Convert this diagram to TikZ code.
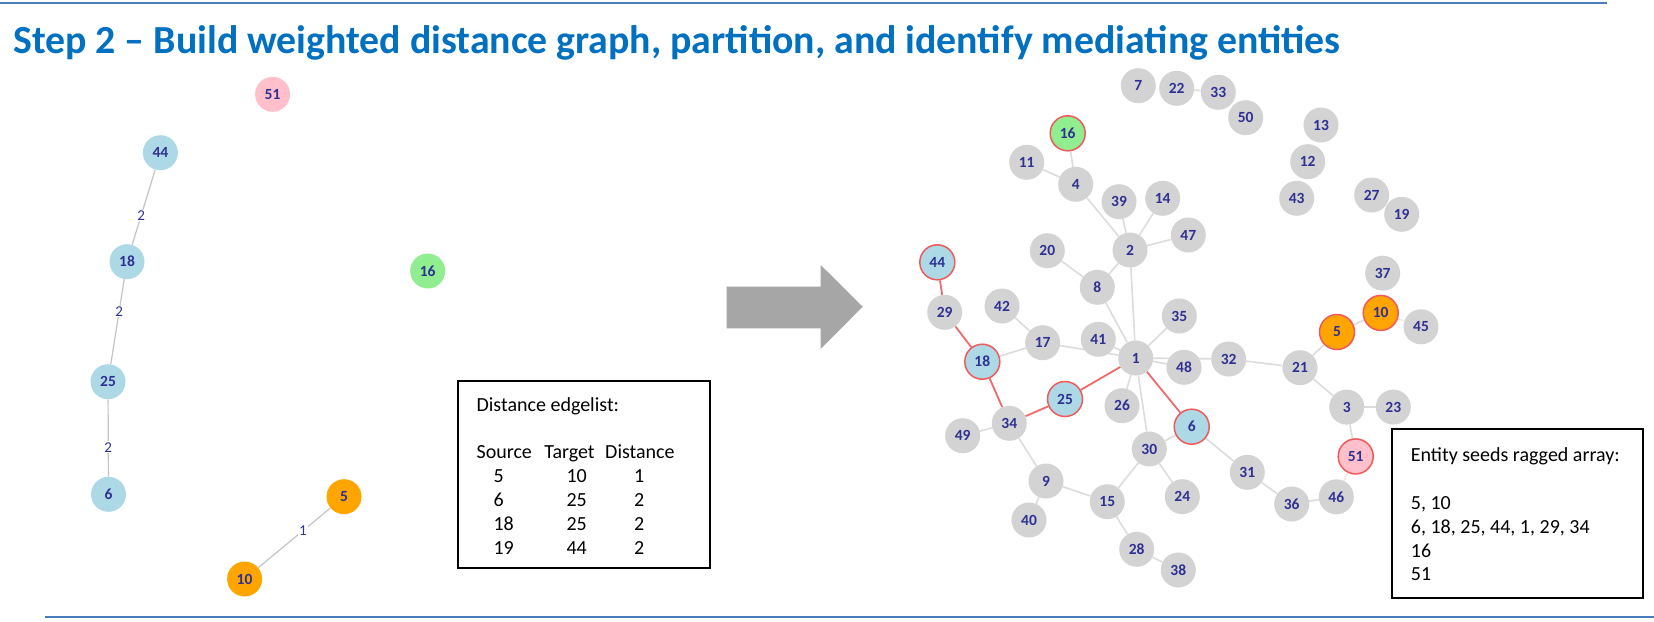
\documentclass[tikz,border=0pt]{standalone}
\usepackage{fontspec}
\setmainfont{Carlito}
\usetikzlibrary{backgrounds}
\definecolor{titleblue}{HTML}{0070C0}
\definecolor{ruleblue}{HTML}{4A7EBB}
\definecolor{nodegray}{HTML}{D3D3D3}
\definecolor{nodeblue}{HTML}{ADD8E6}
\definecolor{nodegreen}{HTML}{90EE90}
\definecolor{nodeorange}{HTML}{FFA500}
\definecolor{nodepink}{HTML}{FFC0CB}
\definecolor{seedred}{HTML}{F05A5A}
\definecolor{labelnavy}{HTML}{2E3192}
\definecolor{edgegray}{HTML}{DCDCDC}
\definecolor{leftedge}{HTML}{C4C4C4}
\definecolor{rededge}{HTML}{F06A6A}
\definecolor{faintpink}{HTML}{F8E2E2}
\definecolor{arrowgray}{HTML}{A6A6A6}
\begin{document}
\begin{tikzpicture}[x=1pt,y=-1pt,
  vbase/.style={circle, minimum size=35pt, inner sep=0pt, text=labelnavy,
    font=\fontsize{15.5}{15.5}\selectfont\bfseries},
  gn/.style={vbase, fill=nodegray},
  bn/.style={vbase, fill=nodeblue},
  grn/.style={vbase, fill=nodegreen},
  on/.style={vbase, fill=nodeorange},
  pn/.style={vbase, fill=nodepink},
  seed/.style={draw=seedred, line width=1.5pt, minimum size=35pt},
  ge/.style={draw=edgegray, line width=1.6pt},
  re/.style={draw=rededge, line width=1.8pt},
  fe/.style={draw=faintpink, line width=1.4pt},
  le/.style={draw=leftedge, line width=1.2pt},
  elab/.style={fill=white, inner sep=1pt, text=labelnavy, font=\fontsize{15}{15}\selectfont},
  boxtxt/.style={anchor=base west, inner sep=0pt, font=\fontsize{20}{24}\selectfont},
  listbox/.style={draw=black, line width=2pt, inner sep=0pt}
]
\useasboundingbox (0,0) rectangle (1654,621);

% title and rules
\node[anchor=base west, inner sep=0pt, text=titleblue,
  font=\fontsize{39.8}{42}\selectfont\bfseries] (title) at (13,53)
  {Step 2 -- Build weighted distance graph, partition, and identify mediating entities};
\coordinate (topL) at (0,3);
\coordinate (topR) at (1607,3);
\coordinate (botL) at (45,617);
\coordinate (botR) at (1654,617);

% ---------- left graph ----------
\node[pn] (L51) at (272.6,94.3) {51};
\node[bn] (L44) at (160.4,152.7) {44};
\node[bn] (L18) at (127,261.7) {18};
\node[bn] (L25) at (108,381.7) {25};
\node[bn] (L6) at (108.5,494.3) {6};
\node[grn] (L16) at (427.7,271) {16};
\node[on] (L5) at (344,496.7) {5};
\node[on] (L10) at (244.6,579) {10};

% ---------- arrow ----------
\node[inner sep=0pt] (arrowtail) at (726.7,306.7) {};
\fill[arrowgray] (726.7,286.7) -- (820.7,286.7) -- (820.7,265) -- (862.7,306.7)
  -- (820.7,349) -- (820.7,328.3) -- (726.7,328.3) -- cycle;

% ---------- right graph ----------
\node[gn] (r7) at (1138.3,85.7) {7};
\node[gn] (r22) at (1176.7,88.3) {22};
\node[gn] (r33) at (1218.3,92.3) {33};
\node[gn] (r50) at (1245.7,117.7) {50};
\node[gn] (r13) at (1321,125) {13};
\node[grn,seed] (r16) at (1067.7,133.3) {16};
\node[gn] (r11) at (1026.7,162.3) {11};
\node[gn] (r12) at (1307.7,161.7) {12};
\node[gn] (r4) at (1075.7,184.3) {4};
\node[gn] (r39) at (1119,201.7) {39};
\node[gn] (r14) at (1162.7,198.3) {14};
\node[gn] (r43) at (1296.7,198.3) {43};
\node[gn] (r27) at (1371.7,195) {27};
\node[gn] (r19) at (1401.7,214.3) {19};
\node[gn] (r47) at (1188.3,235) {47};
\node[gn] (r2) at (1130,250) {2};
\node[gn] (r20) at (1047.3,250.7) {20};
\node[bn,seed] (r44) at (937.3,262.3) {44};
\node[gn] (r37) at (1382.7,273.2) {37};
\node[gn] (r8) at (1097.3,287.3) {8};
\node[gn] (r42) at (1002,306) {42};
\node[gn] (r29) at (944.7,312.3) {29};
\node[on,seed] (r10) at (1380.7,312.9) {10};
\node[gn] (r35) at (1179.3,316) {35};
\node[gn] (r45) at (1421,326.8) {45};
\node[on,seed] (r5) at (1337,332) {5};
\node[gn] (r41) at (1098.3,339.3) {41};
\node[gn] (r17) at (1042.7,342.7) {17};
\node[gn] (r1) at (1135.7,358) {1};
\node[gn] (r32) at (1228.7,359) {32};
\node[bn,seed] (r18) at (982.3,361.7) {18};
\node[gn] (r48) at (1184,367.3) {48};
\node[gn] (r21) at (1300,367.7) {21};
\node[bn,seed] (r25) at (1065,399) {25};
\node[gn] (r26) at (1122,405.7) {26};
\node[gn] (r3) at (1346.7,407.1) {3};
\node[gn] (r23) at (1393.3,407.1) {23};
\node[gn] (r34) at (1009.3,423.3) {34};
\node[bn,seed] (r6) at (1191.7,426.7) {6};
\node[gn] (r49) at (962.7,435.7) {49};
\node[gn] (r30) at (1149.3,449) {30};
\node[pn,seed] (r51) at (1355.7,456.4) {51};
\node[gn] (r31) at (1247.3,472.3) {31};
\node[gn] (r9) at (1046,481) {9};
\node[gn] (r24) at (1182.3,496.7) {24};
\node[gn] (r46) at (1336.3,496.8) {46};
\node[gn] (r15) at (1107.3,501.7) {15};
\node[gn] (r36) at (1291.7,504) {36};
\node[gn] (r40) at (1029,520) {40};
\node[gn] (r28) at (1136.7,549.3) {28};
\node[gn] (r38) at (1178.3,570) {38};

% ---------- boxes ----------
\node[listbox, minimum width=252.4pt, minimum height=187.3pt] (edgebox) at (584.2,474.65) {};
\node[boxtxt] (eb0) at (476.4,411) {Distance edgelist:};
\node[boxtxt] (ebh1) at (476.4,458.3) {Source};
\node[boxtxt] (ebh2) at (544.2,458.3) {Target};
\node[boxtxt] (ebh3) at (605,458.3) {Distance};
\node[boxtxt] (eba1) at (493.4,482.3) {5};
\node[boxtxt] (eba2) at (566.4,482.3) {10};
\node[boxtxt] (eba3) at (634,482.3) {1};
\node[boxtxt] (ebb1) at (493.4,506.3) {6};
\node[boxtxt] (ebb2) at (566.4,506.3) {25};
\node[boxtxt] (ebb3) at (634,506.3) {2};
\node[boxtxt] (ebc1) at (493.4,530.3) {18};
\node[boxtxt] (ebc2) at (566.4,530.3) {25};
\node[boxtxt] (ebc3) at (634,530.3) {2};
\node[boxtxt] (ebd1) at (493.4,554.3) {19};
\node[boxtxt] (ebd2) at (566.4,554.3) {44};
\node[boxtxt] (ebd3) at (634,554.3) {2};

\node[listbox, minimum width=251pt, minimum height=168.6pt] (seedbox) at (1517.8,513.2) {};
\node[boxtxt] (sb0) at (1410.7,461.8) {Entity seeds ragged array:};
\node[boxtxt] (sb1) at (1410.7,509.3) {5, 10};
\node[boxtxt] (sb2) at (1410.7,533.2) {6, 18, 25, 44, 1, 29, 34};
\node[boxtxt] (sb3) at (1410.7,557.1) {16};
\node[boxtxt] (sb4) at (1410.7,580.9) {51};

% ---------- background layer: fill, rules, edges ----------
\begin{scope}[on background layer]
\fill[white] (0,0) rectangle (1654,621);
\draw[ruleblue, line width=2pt] (topL) -- (topR);
\draw[ruleblue, line width=2pt] (botL) -- (botR);
% left graph edges
\draw[le] (L44) -- (L18);
\draw[le] (L18) -- (L25);
\draw[le] (L25) -- (L6);
\draw[le] (L5) -- (L10);
% right graph gray edges
\foreach \a/\b in {r16/r4, r11/r4, r4/r2, r39/r2, r14/r2, r47/r2, r2/r8, r2/r1,
  r20/r8, r8/r1, r42/r17, r17/r18, r17/r1, r41/r1, r35/r1, r1/r48, r1/r32,
  r32/r21, r21/r5, r21/r3, r3/r23, r3/r51, r5/r10, r22/r33, r1/r26, r1/r30,
  r30/r6, r30/r15, r30/r24, r15/r9, r15/r28, r28/r38, r9/r34, r9/r40,
  r34/r49, r6/r31, r31/r36, r36/r46}
  \draw[ge] (\a) -- (\b);
\draw[fe] (r10) -- (r45);
\draw[fe] (r51) -- (r46);
% red edges
\foreach \a/\b in {r44/r29, r29/r18, r18/r34, r34/r25, r25/r1, r1/r6}
  \draw[re] (\a) -- (\b);
\end{scope}

% left edge labels
\path (L44) -- node[elab, pos=0.61] (w1) {2} (L18);
\path (L18) -- node[elab, pos=0.38] (w2) {2} (L25);
\path (L25) -- node[elab, pos=0.62] (w3) {2} (L6);
\path (L5) -- node[elab, pos=0.38] (w4) {1} (L10);
\end{tikzpicture}
\end{document}
